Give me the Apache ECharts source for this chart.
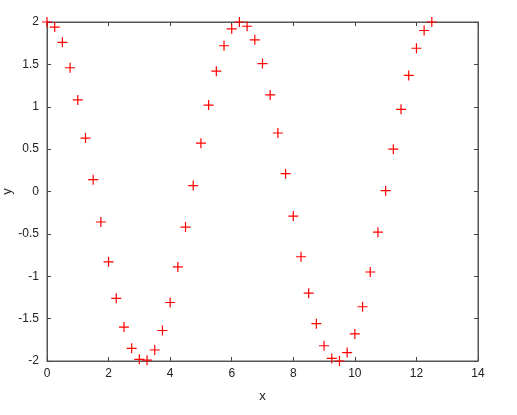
<!DOCTYPE html>
<html>
<head>
<meta charset="utf-8">
<script src="https://cdn.jsdelivr.net/npm/echarts@6/dist/echarts.min.js"></script>
<style>
  html, body { margin: 0; padding: 0; background: #fff; }
  #main { width: 517px; height: 415px; }
</style>
</head>
<body>
<div id="main"></div>
<script>
// sample positions along x
var xs = [0, 0.25, 0.5, 0.75, 1, 1.25, 1.5, 1.75, 2, 2.25, 2.5, 2.75, 3, 3.25, 3.5, 3.75,
          4, 4.25, 4.5, 4.75, 5, 5.25, 5.5, 5.75, 6, 6.25, 6.5, 6.75, 7, 7.25, 7.5, 7.75,
          8, 8.25, 8.5, 8.75, 9, 9.25, 9.5, 9.75, 10, 10.25, 10.5, 10.75, 11, 11.25, 11.5,
          11.75, 12, 12.25, 12.5];
// values
var ys = [2.00, 1.94, 1.76, 1.46, 1.08, 0.63, 0.14, -0.36, -0.83, -1.26, -1.60, -1.85,
          -1.98, -1.99, -1.87, -1.64, -1.31, -0.89, -0.42, 0.07, 0.57, 1.02, 1.42, 1.72,
          1.92, 2.00, 1.95, 1.79, 1.51, 1.14, 0.69, 0.21, -0.29, -0.77, -1.20, -1.56,
          -1.82, -1.97, -2.00, -1.90, -1.68, -1.36, -0.95, -0.48, 0.01, 0.50, 0.97, 1.37,
          1.69, 1.90, 2.00];

var points = xs.map(function (x, i) { return [x, ys[i]]; });

var chart = echarts.init(document.getElementById('main'));

var font = 'Liberation Sans, Arial, sans-serif';
var tickStyle = { show: true, inside: true, length: 4, lineStyle: { color: '#444', width: 1 } };
var lbl = { color: '#222', fontSize: 12, fontFamily: font };
var line = { show: true, onZero: false, lineStyle: { color: '#555' } };

chart.setOption({
  animation: false,
  grid: { left: 47, right: 39, top: 22, bottom: 54, show: true, borderColor: '#555', borderWidth: 1,
          containLabel: false, outerBoundsMode: 'none' },
  xAxis: [{
    type: 'value', min: 0, max: 14, interval: 2,
    name: 'x', nameLocation: 'middle', nameGap: 29, nameMoveOverlap: false,
    nameTextStyle: { color: '#222', fontSize: 13, fontFamily: font },
    axisLine: line,
    axisTick: tickStyle,
    axisLabel: Object.assign({ margin: 7 }, lbl),
    splitLine: { show: false }
  }, {
    type: 'value', min: 0, max: 14, interval: 2, position: 'top',
    axisLine: line,
    axisTick: tickStyle, axisLabel: { show: false }, splitLine: { show: false }
  }],
  yAxis: [{
    type: 'value', min: -2, max: 2, interval: 0.5,
    name: 'y', nameLocation: 'middle', nameGap: 33, nameMoveOverlap: false,
    nameTextStyle: { color: '#222', fontSize: 13, fontFamily: font },
    axisLine: line,
    axisTick: tickStyle,
    axisLabel: Object.assign({ margin: 8 }, lbl),
    splitLine: { show: false }
  }, {
    type: 'value', min: -2, max: 2, interval: 0.5, position: 'right',
    axisLine: line,
    axisTick: tickStyle, axisLabel: { show: false }, splitLine: { show: false }
  }],
  series: [{
    type: 'scatter',
    data: points,
    symbol: 'path://M4.4,0H5.6V4.4H10V5.6H5.6V10H4.4V5.6H0V4.4H4.4Z',
    symbolSize: 10,
    itemStyle: { color: '#ff0000', opacity: 1 },
    clip: false
  }]
});
</script>
</body>
</html>
